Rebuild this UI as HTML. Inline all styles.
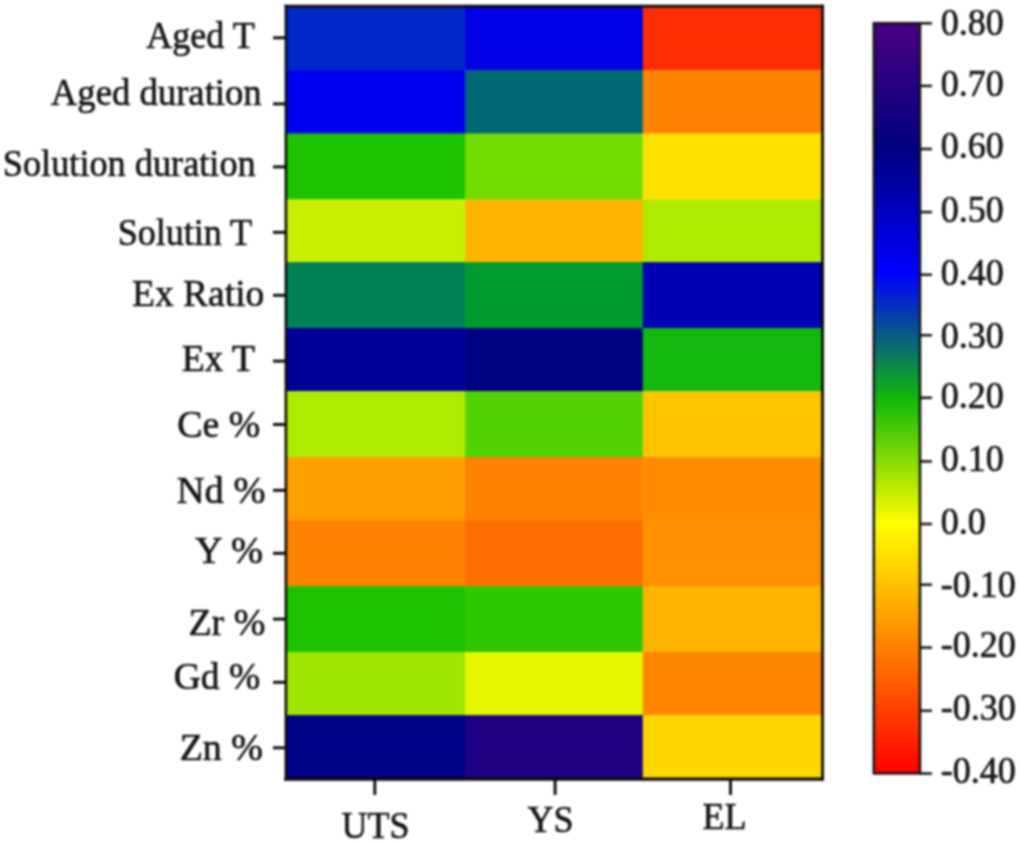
<!DOCTYPE html>
<html lang="en">
<head>
<meta charset="utf-8">
<title>Correlation heatmap</title>
<style>
html,body{margin:0;padding:0;background:#fff;}
body{width:1020px;height:843px;overflow:hidden;}
svg{display:block;filter:blur(0.8px);}
text{font-family:"Liberation Serif",serif;font-size:36px;fill:#141414;stroke:#141414;stroke-width:0.6;}
.ln{stroke:#0a0a0a;stroke-width:2.9;fill:none;}
.cb{stroke:#141414;stroke-width:2.5;}
</style>
</head>
<body>
<svg width="1020" height="843" viewBox="0 0 1020 843">
<defs>
<linearGradient id="cb" x1="0" y1="0" x2="0" y2="1">
<stop offset="0" stop-color="#4b0082"/>
<stop offset="0.1667" stop-color="#00007f"/>
<stop offset="0.3333" stop-color="#0000ff"/>
<stop offset="0.5" stop-color="#10b80a"/>
<stop offset="0.6667" stop-color="#ffff00"/>
<stop offset="1" stop-color="#ff0000"/>
</linearGradient>
</defs>
<rect x="0" y="0" width="1020" height="843" fill="#ffffff"/>
<g>
<rect x="285.6" y="5.9" width="180.2" height="64.8" fill="#0028c8"/>
<rect x="465.2" y="5.9" width="178.2" height="64.8" fill="#0000e6"/>
<rect x="642.8" y="5.9" width="179.6" height="64.8" fill="#ff2d00"/>
<rect x="285.6" y="70.1" width="180.2" height="63.9" fill="#0000f0"/>
<rect x="465.2" y="70.1" width="178.2" height="63.9" fill="#006973"/>
<rect x="642.8" y="70.1" width="179.6" height="63.9" fill="#ff8200"/>
<rect x="285.6" y="133.4" width="180.2" height="66.5" fill="#1ec300"/>
<rect x="465.2" y="133.4" width="178.2" height="66.5" fill="#73dc00"/>
<rect x="642.8" y="133.4" width="179.6" height="66.5" fill="#ffe100"/>
<rect x="285.6" y="199.3" width="180.2" height="63.4" fill="#c8f000"/>
<rect x="465.2" y="199.3" width="178.2" height="63.4" fill="#ffb400"/>
<rect x="642.8" y="199.3" width="179.6" height="63.4" fill="#afeb00"/>
<rect x="285.6" y="262.1" width="180.2" height="66.5" fill="#008255"/>
<rect x="465.2" y="262.1" width="178.2" height="66.5" fill="#009b2d"/>
<rect x="642.8" y="262.1" width="179.6" height="66.5" fill="#0000b4"/>
<rect x="285.6" y="328.0" width="180.2" height="63.7" fill="#000096"/>
<rect x="465.2" y="328.0" width="178.2" height="63.7" fill="#000082"/>
<rect x="642.8" y="328.0" width="179.6" height="63.7" fill="#14b90f"/>
<rect x="285.6" y="391.1" width="180.2" height="66.7" fill="#afeb00"/>
<rect x="465.2" y="391.1" width="178.2" height="66.7" fill="#50d200"/>
<rect x="642.8" y="391.1" width="179.6" height="66.7" fill="#ffc300"/>
<rect x="285.6" y="457.2" width="180.2" height="63.7" fill="#ffa000"/>
<rect x="465.2" y="457.2" width="178.2" height="63.7" fill="#ff8200"/>
<rect x="642.8" y="457.2" width="179.6" height="63.7" fill="#ff8c00"/>
<rect x="285.6" y="520.3" width="180.2" height="66.4" fill="#ff8200"/>
<rect x="465.2" y="520.3" width="178.2" height="66.4" fill="#ff6e00"/>
<rect x="642.8" y="520.3" width="179.6" height="66.4" fill="#ff9100"/>
<rect x="285.6" y="586.1" width="180.2" height="66.5" fill="#1ec300"/>
<rect x="465.2" y="586.1" width="178.2" height="66.5" fill="#2dc800"/>
<rect x="642.8" y="586.1" width="179.6" height="66.5" fill="#ffb400"/>
<rect x="285.6" y="652.0" width="180.2" height="63.7" fill="#a0e600"/>
<rect x="465.2" y="652.0" width="178.2" height="63.7" fill="#e6f500"/>
<rect x="642.8" y="652.0" width="179.6" height="63.7" fill="#ff8700"/>
<rect x="285.6" y="715.1" width="180.2" height="63.9" fill="#000087"/>
<rect x="465.2" y="715.1" width="178.2" height="63.9" fill="#1e0082"/>
<rect x="642.8" y="715.1" width="179.6" height="63.9" fill="#ffd700"/>
</g>
<line class="ln" x1="284.6" y1="6.1" x2="824" y2="6.1" style="stroke-width:2.9"/>
<line class="ln" x1="284.2" y1="779.2" x2="824" y2="779.2" style="stroke-width:3.2"/>
<line class="ln" x1="285.9" y1="4.7" x2="285.9" y2="780.8" style="stroke-width:2.6"/>
<line class="ln" x1="822.6" y1="4.7" x2="822.6" y2="780.8" style="stroke-width:2.8"/>
<line class="ln" x1="273" y1="37.8" x2="285.9" y2="37.8"/>
<line class="ln" x1="273" y1="103.9" x2="285.9" y2="103.9"/>
<line class="ln" x1="273" y1="166.9" x2="285.9" y2="166.9"/>
<line class="ln" x1="273" y1="232.3" x2="285.9" y2="232.3"/>
<line class="ln" x1="273" y1="295.3" x2="285.9" y2="295.3"/>
<line class="ln" x1="273" y1="361.1" x2="285.9" y2="361.1"/>
<line class="ln" x1="273" y1="424.5" x2="285.9" y2="424.5"/>
<line class="ln" x1="273" y1="490.3" x2="285.9" y2="490.3"/>
<line class="ln" x1="273" y1="553.3" x2="285.9" y2="553.3"/>
<line class="ln" x1="273" y1="619.1" x2="285.9" y2="619.1"/>
<line class="ln" x1="273" y1="682.3" x2="285.9" y2="682.3"/>
<line class="ln" x1="273" y1="747.8" x2="285.9" y2="747.8"/>
<line class="ln" x1="374.8" y1="779" x2="374.8" y2="795"/>
<line class="ln" x1="555.1" y1="779" x2="555.1" y2="795"/>
<line class="ln" x1="730.5" y1="779" x2="730.5" y2="795"/>
<text transform="translate(254.7,47.6) scale(1.002,1.07)" text-anchor="end">Aged T</text>
<text transform="translate(261.7,104.6) scale(1.019,1.07)" text-anchor="end">Aged duration</text>
<text transform="translate(255.7,176.4) scale(1.008,1.07)" text-anchor="end">Solution duration</text>
<text transform="translate(252.1,245.0) scale(1.001,1.07)" text-anchor="end">Solutin T</text>
<text transform="translate(264.3,305.5) scale(1.041,1.07)" text-anchor="end">Ex Ratio</text>
<text transform="translate(255.0,371.3) scale(1.043,1.07)" text-anchor="end">Ex T</text>
<text transform="translate(260.2,437.2) scale(1.05,1.07)" text-anchor="end">Ce %</text>
<text transform="translate(265.4,502.5) scale(1.067,1.07)" text-anchor="end">Nd %</text>
<text transform="translate(263.0,563.3) scale(1.068,1.07)" text-anchor="end">Y %</text>
<text transform="translate(265.4,634.7) scale(1.056,1.07)" text-anchor="end">Zr %</text>
<text transform="translate(260.2,688.8) scale(1.043,1.07)" text-anchor="end">Gd %</text>
<text transform="translate(263.0,760.3) scale(1.055,1.07)" text-anchor="end">Zn %</text>
<text transform="translate(375.6,838.0) scale(1,1.07)" text-anchor="middle">UTS</text>
<text transform="translate(550.6,832.3) scale(1,1.07)" text-anchor="middle">YS</text>
<text transform="translate(724.6,829.3) scale(1,1.07)" text-anchor="middle">EL</text>
<rect x="873.6" y="23.2" width="46.6" height="750.3" fill="url(#cb)"/>
<rect class="ln cb" x="873.8" y="23.2" width="46.2" height="750.2"/>
<line class="ln cb" x1="920" y1="23.3" x2="932" y2="23.3"/>
<text transform="translate(940.8,35.4) scale(1,1.07)">0.80</text>
<line class="ln cb" x1="920" y1="85.9" x2="932" y2="85.9"/>
<text transform="translate(940.8,96.0) scale(1,1.07)">0.70</text>
<line class="ln cb" x1="920" y1="149.0" x2="932" y2="149.0"/>
<text transform="translate(940.8,158.1) scale(1,1.07)">0.60</text>
<line class="ln cb" x1="920" y1="212.1" x2="932" y2="212.1"/>
<text transform="translate(940.8,221.9) scale(1,1.07)">0.50</text>
<line class="ln cb" x1="920" y1="274.7" x2="932" y2="274.7"/>
<text transform="translate(940.8,285.0) scale(1,1.07)">0.40</text>
<line class="ln cb" x1="920" y1="335.2" x2="932" y2="335.2"/>
<text transform="translate(940.8,347.6) scale(1,1.07)">0.30</text>
<line class="ln cb" x1="920" y1="397.8" x2="932" y2="397.8"/>
<text transform="translate(940.8,407.8) scale(1,1.07)">0.20</text>
<line class="ln cb" x1="920" y1="461.4" x2="932" y2="461.4"/>
<text transform="translate(940.8,470.7) scale(1,1.07)">0.10</text>
<line class="ln cb" x1="920" y1="524.0" x2="932" y2="524.0"/>
<text transform="translate(940.8,533.6) scale(1,1.07)">0.0</text>
<line class="ln cb" x1="920" y1="584.7" x2="932" y2="584.7"/>
<text transform="translate(940.8,596.9) scale(1,1.07)">-0.10</text>
<line class="ln cb" x1="920" y1="647.6" x2="932" y2="647.6"/>
<text transform="translate(940.8,657.0) scale(1,1.07)">-0.20</text>
<line class="ln cb" x1="920" y1="710.7" x2="932" y2="710.7"/>
<text transform="translate(940.8,720.3) scale(1,1.07)">-0.30</text>
<line class="ln cb" x1="920" y1="773.5" x2="932" y2="773.5"/>
<text transform="translate(940.8,783.3) scale(1,1.07)">-0.40</text>
</svg>
</body>
</html>
